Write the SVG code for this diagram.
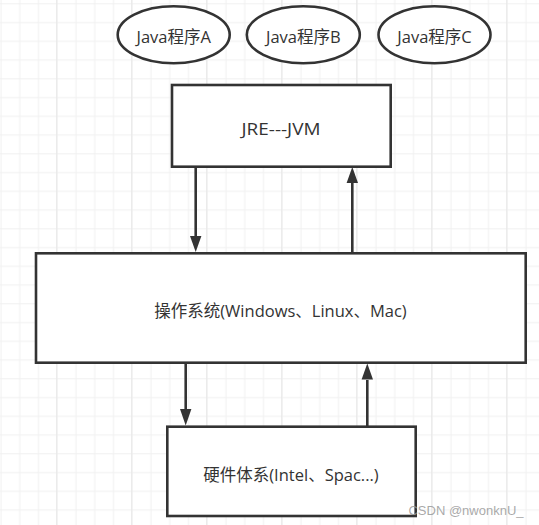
<svg xmlns="http://www.w3.org/2000/svg" width="539" height="525" viewBox="0 0 539 525">
<defs>
<pattern id="grid" x="-18.3" y="3.3" width="75" height="75" patternUnits="userSpaceOnUse">
<path d="M0.5 0V75M19.25 0V75M38 0V75M56.75 0V75M0 0.5H75M0 19.25H75M0 38H75M0 56.75H75" stroke="#f0f0f0" stroke-width="1" fill="none"/>
</pattern>
<style>
.shape{fill:#fff;stroke:#333;stroke-width:2.6}
.lbl{font-family:"Open Sans","Noto Sans CJK SC","Microsoft YaHei",sans-serif;font-size:16.5px;fill:#333;text-anchor:middle;dominant-baseline:central}
.conn{stroke:#333;stroke-width:2.6;fill:none}
.head{fill:#333}
</style>
</defs>
<rect width="539" height="525" fill="#fff"/>
<rect width="539" height="525" fill="url(#grid)"/>
<path d="M56.7 0V525M131.7 0V525M206.7 0V525M281.7 0V525M356.7 0V525M431.7 0V525M506.7 0V525" stroke="#e8e8e8" stroke-width="1" fill="none"/>
<g id="nodeA"><ellipse class="shape" cx="173.7" cy="34.7" rx="56" ry="28.5"/><text class="lbl" x="173.7" y="36">Java程序A</text></g>
<g id="nodeB"><ellipse class="shape" cx="303.3" cy="34.7" rx="56.5" ry="28.5"/><text class="lbl" x="303.3" y="36">Java程序B</text></g>
<g id="nodeC"><ellipse class="shape" cx="434.5" cy="34.7" rx="56" ry="28.5"/><text class="lbl" x="434.5" y="36">Java程序C</text></g>
<g id="jre"><rect class="shape" x="172" y="85" width="218.7" height="81.7"/><text class="lbl" x="281" y="128" textLength="79" lengthAdjust="spacingAndGlyphs">JRE---JVM</text></g>
<g id="os"><rect class="shape" x="36" y="253.3" width="489.7" height="109.4"/><text class="lbl" x="280.5" y="310.5">操作系统(Windows、Linux、Mac)</text></g>
<g id="hw"><rect class="shape" x="167.3" y="426.7" width="248.4" height="89.3"/><text class="lbl" x="291" y="474.5">硬件体系(Intel、Spac...)</text></g>
<g id="connectors">
<path class="conn" d="M195.7 166.7V236"/>
<path class="head" d="M190 236L195.7 252L201.4 236Z"/>
<path class="conn" d="M352.3 253.3V183"/>
<path class="head" d="M346.6 183L352.3 167L358 183Z"/>
<path class="conn" d="M185.7 362.7V410"/>
<path class="head" d="M180 409L185.7 425.5L191.4 409Z"/>
<path class="conn" d="M367.3 426.7V380"/>
<path class="head" d="M361.6 379.5L367.3 363.5L373 379.5Z"/>
</g>
<text x="466" y="510" font-family="Liberation Sans, Arial, sans-serif" font-size="13" fill="#999" fill-opacity="0.85" text-anchor="middle" dominant-baseline="central">CSDN @nwonknU_</text>
</svg>
